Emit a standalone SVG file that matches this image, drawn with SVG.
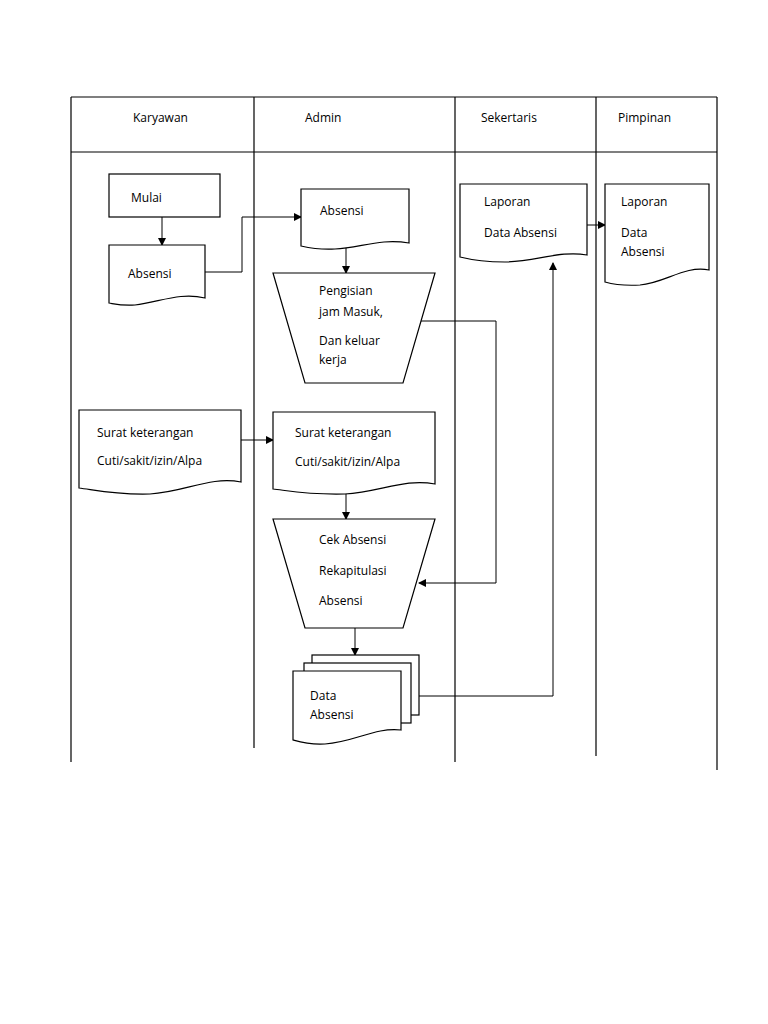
<svg xmlns="http://www.w3.org/2000/svg" width="768" height="1024" viewBox="0 0 768 1024">
<defs><marker id="a" markerWidth="8" markerHeight="8" refX="7" refY="4" orient="auto" markerUnits="userSpaceOnUse"><path d="M0,0L8,4L0,8Z" fill="#000"/></marker></defs>
<style>
.s{fill:#fff;stroke:#000;stroke-width:1.2}
.l{fill:none;stroke:#000;stroke-width:1.2}
.c{fill:none;stroke:#000;stroke-width:1;marker-end:url(#a)}
text{font-family:"Open Sans","DejaVu Sans",sans-serif;font-size:12px;fill:#000}
</style>
<rect width="768" height="1024" fill="#fff"/>
<g id="lanes">
<path class="l" d="M71,97H717M71,152H717M71,97V762M254,97V748M455,97V762M596,97V756M717,97V770"/>
<text x="133" y="122">Karyawan</text><text x="305" y="122">Admin</text><text x="481" y="122">Sekertaris</text><text x="618" y="122">Pimpinan</text>
</g>
<g id="connectors">
<path class="c" d="M162,217V245"/>
<path class="c" d="M205,272H242V217H301"/>
<path class="c" d="M346,243V273"/>
<path class="c" d="M418,321H496V583H419"/>
<path class="c" d="M241,440H273"/>
<path class="c" d="M346,490V519"/>
<path class="c" d="M355,628V655"/>
<path class="c" d="M419,696H553V263"/>
<path class="c" d="M587,225H605"/>
</g>
<g id="mulai"><rect class="s" x="109" y="174" width="111" height="43"/><text x="131" y="202">Mulai</text></g>
<g id="absensi1"><path class="s" d="M109,245H205V298C180,292 160,302 135,305C122,306 115,304 109,303Z"/><text x="128" y="278">Absensi</text></g>
<g id="absensi2"><path class="s" d="M301,189H409V243C380,238 360,248 335,249C320,250 310,248 301,246Z"/><text x="320" y="215">Absensi</text></g>
<g id="pengisian"><path class="s" d="M273,273H435L403,383H305Z"/><text x="319" y="295">Pengisian</text><text x="319" y="316">jam Masuk,</text><text x="319" y="345">Dan keluar</text><text x="319" y="364">kerja</text></g>
<g id="surat1"><path class="s" d="M79,410H241V482C210,476 185,492 150,494C115,495 95,490 79,488Z"/><text x="97" y="437">Surat keterangan</text><text x="97" y="465">Cuti/sakit/izin/Alpa</text></g>
<g id="surat2"><path class="s" d="M273,412H435V484C405,478 380,492 345,494C310,495 290,491 273,489Z"/><text x="295" y="437">Surat keterangan</text><text x="295" y="466">Cuti/sakit/izin/Alpa</text></g>
<g id="cek"><path class="s" d="M273,519H435L403,628H305Z"/><text x="319" y="544">Cek Absensi</text><text x="319" y="575">Rekapitulasi</text><text x="319" y="605">Absensi</text></g>
<g id="data"><rect class="s" x="312" y="655" width="107" height="60"/><rect class="s" x="304" y="663" width="107" height="60"/><path class="s" d="M293,671H401V730C375,727 355,742 325,744C310,745 300,742 293,740Z"/><text x="310" y="700">Data</text><text x="310" y="719">Absensi</text></g>
<g id="laporan1"><path class="s" d="M460,184H587V255C560,250 535,262 505,262C480,262 468,259 460,257Z"/><text x="484" y="206">Laporan</text><text x="484" y="237">Data Absensi</text></g>
<g id="laporan2"><path class="s" d="M605,184H709V270C685,265 665,283 640,285C622,286 612,284 605,282Z"/><text x="621" y="206">Laporan</text><text x="621" y="237">Data</text><text x="621" y="256">Absensi</text></g>
</svg>
